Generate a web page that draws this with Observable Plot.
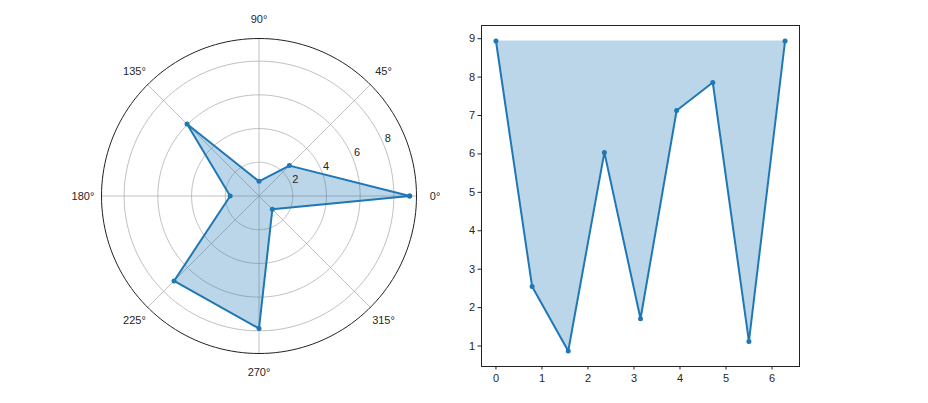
<!DOCTYPE html>
<html>
<head>
<meta charset="utf-8">
<script src="https://cdn.jsdelivr.net/npm/d3@7"></script>
<script src="https://cdn.jsdelivr.net/npm/@observablehq/plot@0.6"></script>
<style>
  html, body { margin: 0; padding: 0; background: white; }
  #wrap { display: flex; width: 928px; height: 403px; }
  #wrap svg { overflow: visible; }
</style>
</head>
<body>
<div id="wrap"></div>
<script>
// ---- data ----
const angleSteps = [0, 1, 2, 3, 4, 5, 6, 7, 8];               // multiples of π/4
const values     = [8.94, 2.55, 0.87, 6.04, 1.71, 7.13, 7.86, 1.12, 8.94];
const thetaTicks = [0, 45, 90, 135, 180, 225, 270, 315];
const thetaLabels = ["0°", "45°", "90°", "135°", "180°", "225°", "270°", "315°"];
const rTicks     = [2, 4, 6, 8];
const xTicks     = [0, 1, 2, 3, 4, 5, 6];
const yTicks     = [1, 2, 3, 4, 5, 6, 7, 8, 9];

const blue = "#1f77b4";
const font = "'Liberation Sans', Arial, sans-serif";
const theta = angleSteps.map(k => k * Math.PI / 4);
const rows = theta.map((t, i) => ({t, r: values[i], x: values[i] * Math.cos(t), y: values[i] * Math.sin(t)}));

// matplotlib-style 5% margins
const vmin = d3.min(values), vmax = d3.max(values);
const rMax = vmax + 0.05 * (vmax - vmin);
const yDom = [vmin - 0.05 * (vmax - vmin), rMax];
const tMax = d3.max(theta);
const xDom = [-0.05 * tMax, tMax * 1.05];

// ---- polar (left) ----
const circlePts = (rad, key) => d3.range(0, 361, 2).map(a => ({key, x: rad * Math.cos(a * Math.PI / 180), y: rad * Math.sin(a * Math.PI / 180)}));
const gridPts = rTicks.flatMap(g => circlePts(g, g));
const outerPts = circlePts(rMax, "outer");
const spokes = thetaTicks.map(a => ({x2: rMax * Math.cos(a * Math.PI / 180), y2: rMax * Math.sin(a * Math.PI / 180)}));
const labR = rMax * 1.118;
const thetaLab = thetaTicks.map((a, i) => ({x: labR * Math.cos(a * Math.PI / 180), y: labR * Math.sin(a * Math.PI / 180), label: thetaLabels[i]}));
const rLabA = 24 * Math.PI / 180;
const rLab = rTicks.map(v => ({x: (v + 0.36) * Math.cos(rLabA), y: (v + 0.36) * Math.sin(rLabA), label: String(v)}));

const polar = Plot.plot({
  width: 464, height: 403,
  marginLeft: 101, marginRight: 48, marginTop: 38, marginBottom: 50,
  style: {background: "transparent", fontFamily: font, overflow: "visible"},
  x: {domain: [-rMax, rMax], axis: null},
  y: {domain: [-rMax, rMax], axis: null},
  marks: [
    Plot.line(gridPts, {x: "x", y: "y", z: "key", stroke: "#b0b0b0", strokeWidth: 0.8}),
    Plot.link(spokes, {x1: 0, y1: 0, x2: "x2", y2: "y2", stroke: "#b0b0b0", strokeWidth: 0.8}),
    Plot.line(rows, {x: "x", y: "y", fill: blue, fillOpacity: 0.3, stroke: "none"}),
    Plot.line(rows, {x: "x", y: "y", stroke: blue, strokeWidth: 2}),
    Plot.dot(rows, {x: "x", y: "y", r: 2.5, fill: blue, stroke: "none"}),
    Plot.line(outerPts, {x: "x", y: "y", stroke: "#222", strokeWidth: 1}),
    Plot.text(thetaLab, {x: "x", y: "y", text: "label", fontSize: 11, fill: "#262626"}),
    Plot.text(rLab, {x: "x", y: "y", text: "label", fontSize: 11, fill: "#262626"})
  ]
});

// ---- cartesian (right) ----
const cart = Plot.plot({
  width: 464, height: 403,
  marginLeft: 17, marginRight: 129, marginTop: 25, marginBottom: 37,
  style: {background: "transparent", fontFamily: font, fontSize: "11px", color: "#262626", overflow: "visible"},
  x: {domain: xDom, ticks: xTicks, tickSize: 3.5, tickPadding: 4, label: null, tickFormat: d => String(d)},
  y: {domain: yDom, ticks: yTicks, tickSize: 3.5, tickPadding: 3, label: null, tickFormat: d => String(d)},
  marks: [
    Plot.areaY(rows, {x: "t", y1: "r", y2: values[0], fill: blue, fillOpacity: 0.3}),
    Plot.line(rows, {x: "t", y: "r", stroke: blue, strokeWidth: 2}),
    Plot.dot(rows, {x: "t", y: "r", r: 2.5, fill: blue, stroke: "none"}),
    Plot.frame({stroke: "#222", strokeWidth: 1})
  ]
});

document.getElementById("wrap").append(polar, cart);
</script>
</body>
</html>
